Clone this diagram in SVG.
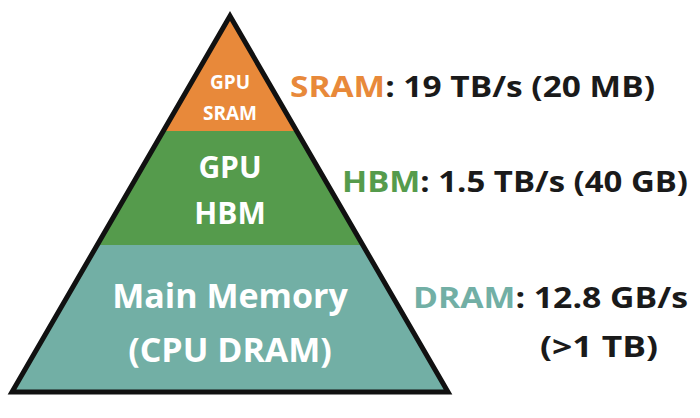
<svg xmlns="http://www.w3.org/2000/svg" width="700" height="418" viewBox="0 0 700 418">
<style>
text{font-family:"Open Sans","Liberation Sans",sans-serif;font-weight:bold}
.w{fill:#fff;text-anchor:middle}
.k{fill:#1a1a1a;font-size:29px}
</style>
<rect width="700" height="418" fill="#fff"/>
<g id="sram"><polygon points="230,16 296.7,131 163.3,131" fill="#E8893A"/>
<text class="w" x="230" y="89" font-size="19">GPU</text><text class="w" x="230" y="120" font-size="19">SRAM</text></g>
<g id="hbm"><polygon points="163.3,131 296.7,131 363,245 97,245" fill="#559B4C"/>
<text class="w" x="230" y="178" font-size="30">GPU</text><text class="w" x="230" y="224" font-size="30">HBM</text></g>
<g id="dram"><polygon points="97,245 363,245 448,392 12,392" fill="#72AFA5"/>
<text class="w" x="230" y="308" font-size="34">Main Memory</text><text class="w" x="230" y="362" font-size="34">(CPU DRAM)</text></g>
<g id="outline"><polygon points="230,16 448,392 12,392" fill="none" stroke="#111" stroke-width="5"/></g>
<g id="labels">
<text class="k" x="290" y="97" textLength="365" lengthAdjust="spacingAndGlyphs"><tspan fill="#E8893A">SRAM</tspan>: 19 TB/s (20 MB)</text>
<text class="k" x="342" y="192" textLength="346" lengthAdjust="spacingAndGlyphs"><tspan fill="#559B4C">HBM</tspan>: 1.5 TB/s (40 GB)</text>
<text class="k" x="413" y="308" textLength="275" lengthAdjust="spacingAndGlyphs"><tspan fill="#72AFA5">DRAM</tspan>: 12.8 GB/s</text>
<text class="k" x="540" y="357" textLength="118" lengthAdjust="spacingAndGlyphs">(&gt;1 TB)</text>
</g>
</svg>
